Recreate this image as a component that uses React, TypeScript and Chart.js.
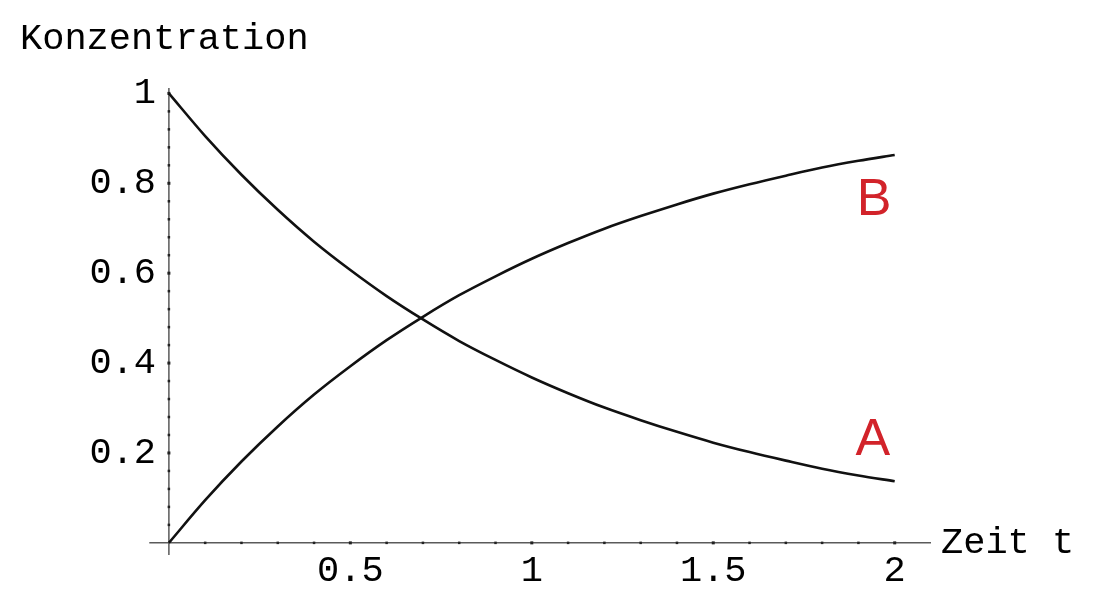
import React, { useEffect, useRef } from "react";
import { Chart, registerables } from "chart.js";

Chart.register(...registerables);

// Time points (t) and concentrations
const T_VALUES = [0, 0.1, 0.2, 0.3, 0.4, 0.5, 0.6, 0.7, 0.8, 0.9, 1.0, 1.1, 1.2, 1.3, 1.4, 1.5, 1.6, 1.7, 1.8, 1.9, 2.0];
const A_VALUES = [1.0, 0.905, 0.819, 0.741, 0.67, 0.607, 0.549, 0.497, 0.449, 0.407, 0.368, 0.333, 0.301, 0.273, 0.247, 0.223, 0.202, 0.183, 0.165, 0.15, 0.137];
const B_VALUES = [0.0, 0.095, 0.181, 0.259, 0.33, 0.393, 0.451, 0.503, 0.551, 0.593, 0.632, 0.667, 0.699, 0.727, 0.753, 0.777, 0.798, 0.817, 0.835, 0.85, 0.863];

const X_TICKS = [0.5, 1, 1.5, 2];
const Y_TICKS = [0.2, 0.4, 0.6, 0.8, 1];
const X_MINOR_STEP = 0.1;
const Y_MINOR_STEP = 0.04;
// axis lines run a little past the origin, as in the picture
const X_AXIS_FROM = -0.054;
const Y_AXIS_FROM = -0.027;

const Y_TITLE = "Konzentration";
const X_TITLE = "Zeit t";
const CURVE_LABELS = [
  { text: "B", x: 1.904, y: 0.729 },
  { text: "A", x: 1.9, y: 0.196 },
];

const MONO = "'Liberation Mono', 'DejaVu Sans Mono', monospace";
const SANS = "'Liberation Sans', Arial, sans-serif";

const axesPlugin = {
  id: "mathAxes",
  beforeDatasetsDraw(chart: any) {
    const { ctx } = chart;
    const xs = chart.scales.x;
    const ys = chart.scales.y;
    const x0 = xs.getPixelForValue(0);
    const y0 = ys.getPixelForValue(0);
    ctx.save();
    ctx.strokeStyle = "#5a5a5a";
    ctx.lineWidth = 1.5;
    ctx.beginPath();
    ctx.moveTo(xs.getPixelForValue(X_AXIS_FROM), y0);
    ctx.lineTo(xs.getPixelForValue(xs.max), y0);
    ctx.moveTo(x0, ys.getPixelForValue(Y_AXIS_FROM));
    ctx.lineTo(x0, ys.getPixelForValue(ys.max));
    ctx.stroke();
    ctx.fillStyle = "#222";
    for (let i = 1; i <= Math.round(2 / X_MINOR_STEP); i++) {
      const v = i * X_MINOR_STEP;
      const px = xs.getPixelForValue(v);
      const major = Math.abs(v * 2 - Math.round(v * 2)) < 1e-6;
      const s = major ? 3 : 2.5;
      ctx.fillRect(px - s / 2, y0 - s / 2, s, s);
    }
    for (let i = 1; i <= Math.round(1 / Y_MINOR_STEP); i++) {
      const v = i * Y_MINOR_STEP;
      const py = ys.getPixelForValue(v);
      const major = Math.abs(v * 5 - Math.round(v * 5)) < 1e-6;
      const s = major ? 3 : 2.5;
      ctx.fillRect(x0 - s / 2, py - s / 2, s, s);
    }
    ctx.restore();
  },
  afterDraw(chart: any) {
    const { ctx } = chart;
    const xs = chart.scales.x;
    const ys = chart.scales.y;
    ctx.save();
    ctx.fillStyle = "#000";
    ctx.font = `37px ${MONO}`;
    ctx.textBaseline = "alphabetic";
    ctx.textAlign = "left";
    ctx.fillText(Y_TITLE, 20, 49);
    ctx.fillText(X_TITLE, xs.getPixelForValue(xs.max) + 10, ys.getPixelForValue(0) + 10);
    ctx.fillStyle = "#d2232a";
    ctx.font = `52px ${SANS}`;
    for (const l of CURVE_LABELS) {
      ctx.fillText(l.text, xs.getPixelForValue(l.x) - 3, ys.getPixelForValue(l.y));
    }
    ctx.restore();
  },
};

export default function App() {
  const ref = useRef<HTMLCanvasElement | null>(null);
  useEffect(() => {
    if (!ref.current) return;
    const chart = new Chart(ref.current, {
      type: "line",
      data: {
        datasets: [
          {
            label: "A",
            data: T_VALUES.map((t, i) => ({ x: t, y: A_VALUES[i] })),
            borderColor: "#111",
            borderWidth: 2.6,
            pointRadius: 0,
            cubicInterpolationMode: "monotone",
            fill: false,
          },
          {
            label: "B",
            data: T_VALUES.map((t, i) => ({ x: t, y: B_VALUES[i] })),
            borderColor: "#111",
            borderWidth: 2.6,
            pointRadius: 0,
            cubicInterpolationMode: "monotone",
            fill: false,
          },
        ],
      },
      options: {
        animation: false,
        responsive: false,
        events: [],
        layout: { padding: { top: 88, right: 169, left: 0, bottom: 0 } },
        plugins: { legend: { display: false }, tooltip: { enabled: false }, title: { display: false } },
        scales: {
          x: {
            type: "linear",
            min: -0.03,
            max: 2.1,
            afterBuildTicks: (s: any) => {
              s.ticks = X_TICKS.map((v) => ({ value: v }));
            },
            afterFit: (s: any) => {
              s.height = 54;
            },
            grid: { display: false, drawTicks: false },
            border: { display: false },
            ticks: {
              autoSkip: false,
              maxRotation: 0,
              padding: -6,
              color: "#000",
              font: { family: MONO, size: 37 },
              callback: (v: any) => String(v),
            },
          },
          y: {
            type: "linear",
            min: Y_AXIS_FROM,
            max: 1.012,
            afterBuildTicks: (s: any) => {
              s.ticks = Y_TICKS.map((v) => ({ value: v }));
            },
            afterFit: (s: any) => {
              s.width = 158;
            },
            grid: { display: false, drawTicks: false },
            border: { display: false },
            ticks: {
              autoSkip: false,
              padding: 2,
              color: "#000",
              font: { family: MONO, size: 37 },
              callback: (v: any) => String(v),
            },
          },
        },
      },
      plugins: [axesPlugin],
    });
    return () => chart.destroy();
  }, []);
  return (
    <div style={{ position: "fixed", left: 0, top: 0, width: 1100, height: 609, background: "#fff" }}>
      <canvas ref={ref} width={1100} height={609} style={{ display: "block" }} />
    </div>
  );
}
